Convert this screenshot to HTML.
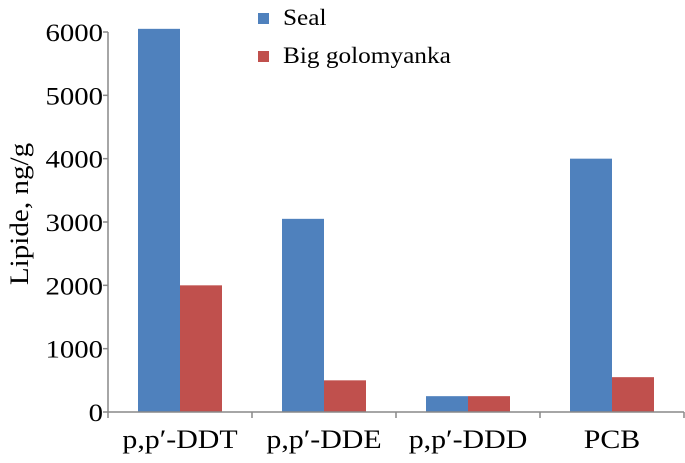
<!DOCTYPE html>
<html><head><meta charset="utf-8"><style>
body{margin:0;background:#fff;}
svg text{font-family:"Liberation Serif",serif;fill:#000;}
</style></head><body>
<svg id="chart" width="685" height="458" xmlns="http://www.w3.org/2000/svg"></svg>
<script>
const categories=["p,p\u2032-DDT","p,p\u2032-DDE","p,p\u2032-DDD","PCB"];
const sealValues=[6050,3050,250,4000];
const golomyankaValues=[2000,500,250,550];
const yTicks=[0,1000,2000,3000,4000,5000,6000];
const seriesNames=["Seal","Big golomyanka"];
const svg=document.getElementById('chart');
const NS="http://www.w3.org/2000/svg";
const x0=108,x1=684,y0=412,yTop=32,yMax=6000;
const catW=(x1-x0)/categories.length;
const barW=42;
function y(v){return y0-(v/yMax)*(y0-yTop);}
function xc(i){return x0+catW*(i+0.5);}
function mk(t,a){const e=document.createElementNS(NS,t);for(const k in a)e.setAttribute(k,a[k]);svg.appendChild(e);return e;}
categories.forEach((c,i)=>{
  let r=mk('rect',{x:xc(i)-barW,y:y(sealValues[i]),width:barW,height:y0-y(sealValues[i]),fill:'#4f81bd'});
  
  
  let r2=mk('rect',{x:xc(i),y:y(golomyankaValues[i]),width:barW,height:y0-y(golomyankaValues[i]),fill:'#c0504d'});
  
  
});
let ya=mk('line',{x1:x0,y1:yTop,x2:x0,y2:y0,stroke:'#888','stroke-width':1.5});


let xa=mk('line',{x1:x0,y1:y0,x2:x1,y2:y0,stroke:'#888','stroke-width':1.5});


yTicks.forEach(v=>{
  mk('line',{x1:x0-5,y1:y(v),x2:x0,y2:y(v),stroke:'#888','stroke-width':1.5});
  let t=mk('text',{x:0,y:0,'text-anchor':'end','font-size':25,transform:'translate('+(x0-5)+','+(y(v)+9)+') scale(1.15,1)'});
  t.textContent=v;
  
  
});
for(let i=0;i<=categories.length;i++){
  mk('line',{x1:x0+catW*i,y1:y0,x2:x0+catW*i,y2:y0+6,stroke:'#888','stroke-width':1.5});
}
categories.forEach((c,i)=>{
  let t=mk('text',{x:0,y:0,'text-anchor':'middle','font-size':26,transform:'translate('+xc(i)+',448) scale(1.15,1)'});
  t.textContent=c;
  
  
});
let yt=mk('text',{x:0,y:0,'text-anchor':'middle','font-size':26,transform:'translate(28,214) rotate(-90) scale(1.12,1)'});
yt.textContent="Lipide, ng/g";


const colors=['#4f81bd','#c0504d'];
seriesNames.forEach((n,i)=>{
  let r=mk('rect',{x:258,y:13+i*38,width:11,height:11,fill:colors[i]});
  
  
  let t=mk('text',{x:0,y:0,'font-size':23,transform:'translate(283,'+(25+i*38)+') scale(1.1,1)'});
  t.textContent=n;
  
  
});
</script>
</body></html>
